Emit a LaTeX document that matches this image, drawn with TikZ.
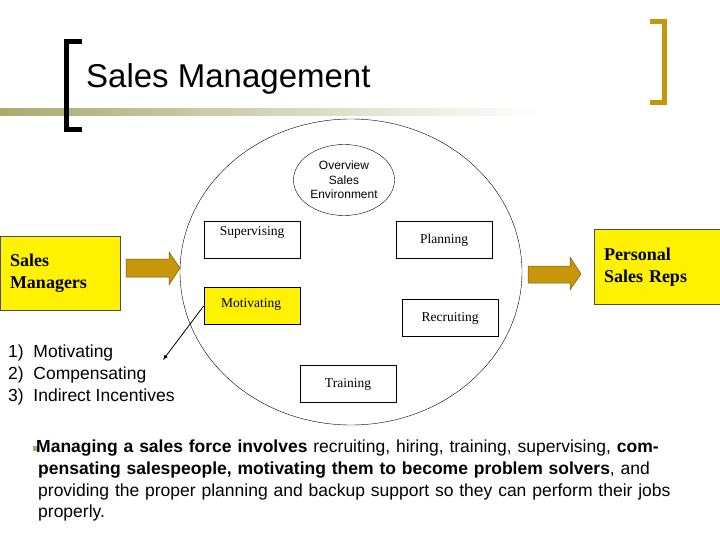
\documentclass[tikz,border=0pt]{standalone}
\usepackage{fontspec}
\setmainfont{Liberation Sans}
\newfontfamily\tms{Liberation Serif}
\usetikzlibrary{shapes.geometric}
\begin{document}
\begin{tikzpicture}[x=1pt,y=-1pt,
  box/.style={draw,line width=0.6pt,minimum width=96pt,minimum height=37pt,inner sep=0pt,font=\tms\fontsize{13.5}{15}\selectfont},
  big/.style={draw=black!70,fill=yellow,inner sep=0pt,font=\tms\bfseries\fontsize{18}{22}\selectfont,align=left},
  garrow/.style={fill=gold,draw=gold!60!black,line width=0.5pt}]
\useasboundingbox (0,0) rectangle (720,540);
\definecolor{gold}{RGB}{200,150,10}
\definecolor{olive}{RGB}{170,170,110}
\shade[left color=olive,right color=white] (0,109) rectangle (540,116);
\draw[line width=5pt] (82,42) -- (66,42) -- (66,130) -- (82,130);
\draw[gold,line width=5pt] (650,22) -- (664,22) -- (664,103) -- (650,103);
\node[anchor=base west,inner sep=0pt,font=\fontsize{33}{38}\selectfont] (title) at (86,88) {Sales Management};
\draw[line width=0.4pt] (351,272) ellipse (171 and 153);
\node[draw,ellipse,line width=0.4pt,minimum width=101pt,minimum height=71pt,inner sep=0pt,align=center,font=\fontsize{12}{14.5}\selectfont] (ov) at (344,180) {Overview\\Sales\\Environment};
\node[box,label={[font=\tms\fontsize{13.5}{15}\selectfont,anchor=north,yshift=-2pt]north:Supervising}] (sup) at (252,240) {};
\node[box] (plan) at (444,240) {\raisebox{-4pt}{Planning}};
\node[box,fill=yellow] (mot) at (252,306) {};
\node[font=\tms\fontsize{13.5}{15}\selectfont] (motl) at (251,304) {Motivating};
\node[box] (rec) at (450,318) {Recruiting};
\node[box] (tr) at (348,384) {Training};
\node[big,minimum width=120pt,minimum height=74pt,text width=100pt] (sm) at (60,273) {Sales\\Managers};
\node[big,minimum width=126pt,minimum height=75pt,text width=106pt] (psr) at (657,267) {Personal\\Sales Reps};
\draw[garrow] (126,259) -- (169,259) -- (169,252) -- (180,268) -- (169,285) -- (169,277) -- (126,277) -- cycle;
\draw[garrow] (528,266) -- (570,266) -- (570,257) -- (581,274) -- (570,290) -- (570,283) -- (528,283) -- cycle;
\coordinate (lt) at (163,360);
\draw[-latex,line width=0.8pt] (mot.west) -- (lt);
\node[anchor=north west,align=left,inner sep=0pt,font=\fontsize{17.5}{21.7}\selectfont] (lst) at (8,345) {1)\ \ Motivating\\2)\ \ Compensating\\3)\ \ Indirect Incentives};
\node[anchor=north west,inner sep=0pt] (bul) at (33,446) {\textcolor{olive}{\rule{5pt}{5pt}}};
\node[anchor=north west,align=left,inner sep=0pt,text width=640pt,font=\fontsize{17.5}{21.7}\selectfont] (txt) at (38,440) {\hspace*{-2pt}\textbf{Managing a sales force involves} recruiting, hiring, training, supervising, \textbf{compensating salespeople, motivating them to become problem solvers}, and providing the proper planning and backup support so they can perform their jobs properly.};
\end{tikzpicture}
\end{document}
